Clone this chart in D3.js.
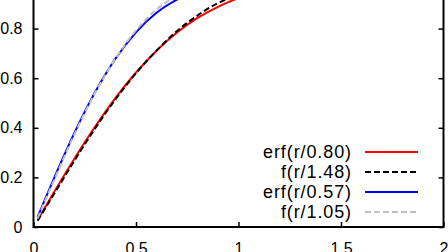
<!DOCTYPE html>
<html>
<head>
<meta charset="utf-8">
<script src="https://cdn.jsdelivr.net/npm/d3@7"></script>
<style>
  html, body { margin: 0; padding: 0; background: #fff; }
  svg { display: block; }
</style>
</head>
<body>
<div id="chart"></div>
<script>
// values
const rValues = [0.02, 0.1, 0.2, 0.3, 0.4, 0.5, 0.6, 0.7, 0.8, 0.9, 1.0, 1.1, 1.2, 1.4, 1.6, 1.8, 2.0];
const erf080 = [0.028, 0.140, 0.276, 0.404, 0.521, 0.623, 0.711, 0.784, 0.843, 0.888, 0.923, 0.948, 0.966, 0.987, 0.995, 0.999, 1.0];
const f148   = [0.025, 0.133, 0.268, 0.397, 0.515, 0.620, 0.711, 0.790, 0.853, 0.903, 0.936, 0.960, 0.975, 0.991, 0.997, 0.999, 1.0];
const erf057 = [0.040, 0.196, 0.380, 0.543, 0.679, 0.785, 0.864, 0.917, 0.953, 0.975, 0.987, 0.993, 0.997, 1.0, 1.0, 1.0, 1.0];
const f105   = [0.035, 0.188, 0.374, 0.540, 0.679, 0.793, 0.877, 0.932, 0.965, 0.981, 0.991, 0.995, 0.998, 1.0, 1.0, 1.0, 1.0];

const seriesNames = ["erf(r/0.80)", "f(r/1.48)", "erf(r/0.57)", "f(r/1.05)"];
const xTicks = [0, 0.5, 1, 1.5, 2];
const yTicks = [0, 0.2, 0.4, 0.6, 0.8, 1];

let config = {
    div: '#chart',
    width: 448,
    height: 252,
    left: 33.5,
    right: 443.5,
    top: -21,
    bottom: 227
};

let styles = [
    {color: "#ff0000", dash: null},
    {color: "#000000", dash: "6,3"},
    {color: "#0000ff", dash: null},
    {color: "#c0c0c0", dash: "6,3"}
];

let svg = d3.select(config.div)
    .append("svg")
    .attr("width", config.width)
    .attr("height", config.height)
    .attr("font-family", "'Liberation Sans', Arial, sans-serif");

let x = d3.scaleLinear().domain([0, 2]).range([config.left, config.right]);
let y = d3.scaleLinear().domain([0, 1]).range([config.bottom, config.top]);

let series = [erf080, f148, erf057, f105].map((vals, i) => ({
    name: seriesNames[i],
    points: rValues.map((r, j) => [r, vals[j]])
}));

let line = d3.line()
    .x(d => x(d[0]))
    .y(d => y(d[1]))
    .curve(d3.curveMonotoneX);

// curves
svg.append("g")
    .attr("fill", "none")
    .attr("stroke-width", 2)
    .selectAll("path")
    .data(series)
    .join("path")
    .attr("stroke", (d, i) => styles[i].color)
    .attr("stroke-dasharray", (d, i) => styles[i].dash)
    .attr("d", d => line(d.points));

// axes, ticks pointing inwards
let bottomAxis = svg.append("g")
    .attr("transform", `translate(0,${config.bottom})`)
    .call(d3.axisBottom(x).tickValues(xTicks).tickFormat(d3.format("")).tickSizeInner(-5).tickSizeOuter(0).tickPadding(16));
let leftAxis = svg.append("g")
    .attr("transform", `translate(${config.left},0)`)
    .call(d3.axisLeft(y).tickValues(yTicks).tickFormat(d3.format("")).tickSizeInner(-5).tickSizeOuter(0).tickPadding(11));
let rightAxis = svg.append("g")
    .attr("transform", `translate(${config.right},0)`)
    .call(d3.axisRight(y).tickValues(yTicks).tickFormat("").tickSizeInner(-5).tickSizeOuter(0));
let topAxis = svg.append("g")
    .attr("transform", `translate(0,${config.top})`)
    .call(d3.axisTop(x).tickValues(xTicks).tickFormat("").tickSizeInner(-5).tickSizeOuter(0));

[bottomAxis, leftAxis, rightAxis, topAxis].forEach(a => {
    a.select(".domain").remove();
    a.selectAll("line").attr("stroke", "#000").attr("stroke-width", 1.5);
    a.selectAll("text").attr("font-size", 16).attr("fill", "#000").attr("font-family", null);
});

// frame
svg.append("rect")
    .attr("x", config.left)
    .attr("y", config.top)
    .attr("width", config.right - config.left)
    .attr("height", config.bottom - config.top)
    .attr("fill", "none")
    .attr("stroke", "#000")
    .attr("stroke-width", 2);

// legend
let legend = svg.append("g")
    .selectAll("g")
    .data(series)
    .join("g")
    .attr("transform", (d, i) => `translate(0,${152 + i * 20})`);

legend.append("text")
    .attr("x", 352)
    .attr("y", 0)
    .attr("dy", "0.36em")
    .attr("text-anchor", "end")
    .attr("font-size", 18)
    .attr("letter-spacing", 0.9)
    .text(d => d.name);

legend.append("line")
    .attr("x1", 365)
    .attr("x2", 418)
    .attr("stroke-width", 2)
    .attr("stroke", (d, i) => styles[i].color)
    .attr("stroke-dasharray", (d, i) => styles[i].dash);
</script>
</body>
</html>
